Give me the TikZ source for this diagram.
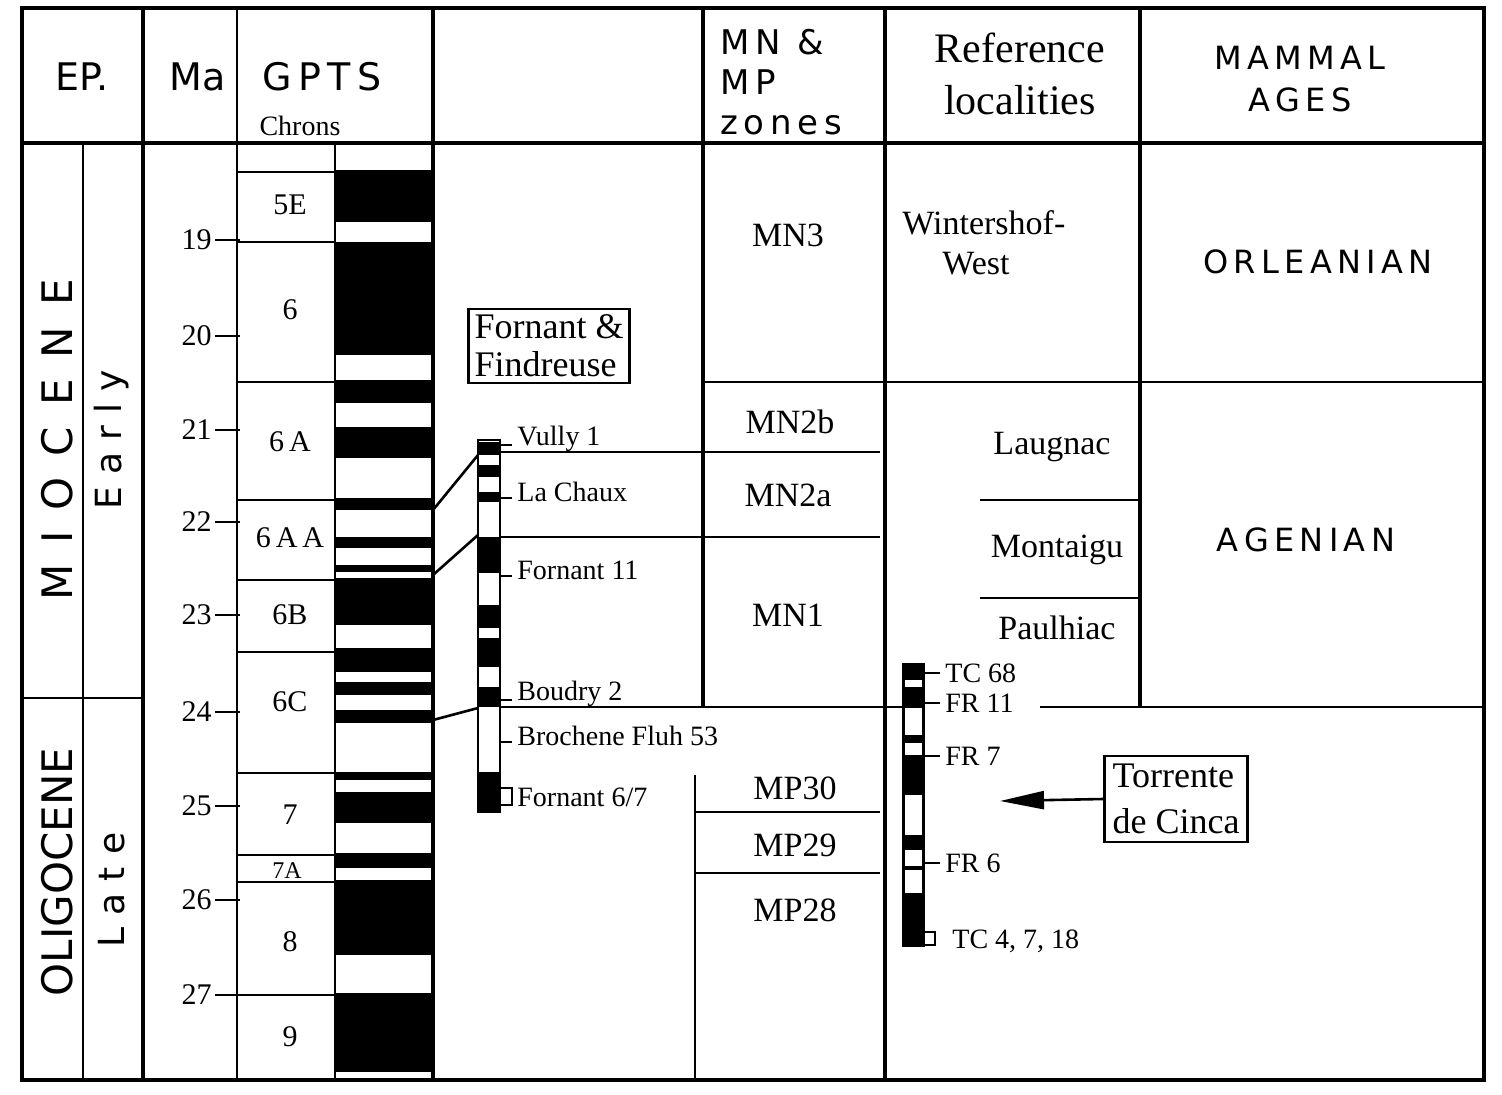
\documentclass[tikz,border=0pt]{standalone}
\usepackage{fontspec}
\setmainfont{Liberation Serif}
\newfontfamily\hsans{DejaVu Sans}
\usetikzlibrary{arrows.meta}
\begin{document}
\begin{tikzpicture}[x=0.5pt,y=-0.5pt,
 thick line/.style={line width=2pt},
 med/.style={line width=1.3pt},
 lab/.style={font=\fontsize{14}{14}\selectfont,anchor=west,inner sep=1pt},
 big/.style={font=\fontsize{17}{17}\selectfont,inner sep=0pt},
 chron/.style={font=\fontsize{15}{15}\selectfont,inner sep=0pt},
 hdr/.style={font=\hsans\fontsize{19}{19}\selectfont,inner sep=0pt}]
\useasboundingbox (0,0) rectangle (1502,1095);
% polarity column
\foreach \a/\b in {170/222,242/355,380/403,427/458,498/510,537/548,565/572,578/625,648/672,682/695,710/723,772/780,792/823,853/868,880/955,993/1072}
  \fill (335,\a) rectangle (433,\b);
% frame
\draw[thick line] (22,8) rectangle (1484,1080);
\draw[thick line] (22,143) -- (1484,143);
\draw[thick line] (143,8) -- (143,1080);
\draw[thick line] (433,8) -- (433,1080);
\draw[med] (83,143) -- (83,1080);
\draw[med] (237,8) -- (237,1080);
\draw[med] (335,143) -- (335,1080);
\draw[thick line] (703,8) -- (703,707);
\draw[med] (695,775) -- (695,1080);
\draw[thick line] (885,8) -- (885,1080);
\draw[thick line] (1140,8) -- (1140,707);
\draw[med] (22,698) -- (143,698);
% chrons
\foreach \y in {172,242,382,500,580,652,773,855,882,995} \draw[med] (237,\y) -- (335,\y);
\foreach \t/\y [count=\i] in {5E/205,6/310,6\,A/442,6\,A\,A/538,6B/615,6C/702,7/815,8/942,9/1037}
  \node[chron] (c\i) at (290,\y) {\t};
\node[chron,font=\fontsize{12}{12}\selectfont] (c7a) at (287,871) {7A};
% Ma
\foreach \m/\y in {19/240,20/336,21/430,22/522,23/615,24/712,25/806,26/900,27/995}{
  \draw[med] (215,\y) -- (240,\y);
  \node[chron,anchor=east] (ma\m) at (212,\y) {\m};}
% header
\node[hdr] (h1) at (82,77) {EP.};
\node[hdr] (h2) at (198,77) {Ma};
\node[hdr] (h3) at (322,77) {G\,P\,T\,S};
\node[font=\fontsize{14}{14}\selectfont,inner sep=0pt] (h4) at (300,126) {Chrons};
\node[hdr,anchor=west,align=left,font=\hsans\fontsize{17}{20}\selectfont] (h5) at (720,82) {M\,N \,\&\\M\,P\\z\,o\,n\,e\,s};
\node[big,align=center,font=\fontsize{21}{26}\selectfont] (h6) at (1020,74) {Reference\\localities};
\node[hdr,align=center,font=\hsans\fontsize{16}{21}\selectfont] (h7) at (1300,79) {M\,A\,M\,M\,A\,L\\A\,G\,E\,S};
% epochs
\node[hdr,rotate=90,font=\hsans\fontsize{21}{21}\selectfont] (e1) at (57,440) {M\,\,\,I\,\,\,O\,\,\,C\,\,\,E\,\,\,N\,\,\,E};
\node[hdr,rotate=90,font=\hsans\fontsize{18}{18}\selectfont] (e2) at (112,440) {E\,\,a\,\,r\,\,l\,\,y};
\node[hdr,rotate=90,font=\hsans\fontsize{21}{21}\selectfont] (e3) at (57,872) {OLIGOCENE};
\node[hdr,rotate=90,font=\hsans\fontsize{18}{18}\selectfont] (e4) at (112,890) {L\,\,a\,\,t\,\,e};
% Fornant column
\fill[white] (478,440) rectangle (500,812);
\foreach \a/\b in {442/455,465/477,492/502,537/573,605/628,638/667,687/707,772/813}
  \fill (478,\a) rectangle (500,\b);
\draw[med] (478,440) rectangle (500,812);
\coordinate (p1) at (433,510); \coordinate (q1) at (478,455);
\coordinate (p2) at (433,575); \coordinate (q2) at (478,535);
\coordinate (p3) at (433,720); \coordinate (q3) at (478,708);
\draw[med] (p1) -- (q1); \draw[med] (p2) -- (q2); \draw[med] (p3) -- (q3);
\node[draw,med,big,align=left,inner sep=3pt,font=\fontsize{18}{19}\selectfont] (ff) at (549,346) {Fornant \&\\Findreuse};
\foreach \y/\t/\n in {445/Vully 1/v,498/La Chaux/lc,576/Fornant 11/f11,700/Boudry 2/b2,742/Brochene Fluh 53/bf}{
  \draw[med] (500,\y) -- (512,\y);
  \node[lab] (\n) at (515,\y-6) {\t};}
\draw[med] (500,788) -- (512,788) -- (512,805) -- (500,805);
\node[lab] (f67) at (515,797) {Fornant 6/7};
% MN zones
\draw[med] (703,382) -- (1484,382);
\draw[med] (500,452) -- (880,452);
\draw[med] (500,537) -- (880,537);
\draw[med] (500,707) -- (903,707);
\draw[med] (1040,707) -- (1484,707);
\draw[med] (695,812) -- (880,812);
\draw[med] (695,873) -- (880,873);
\foreach \t/\x/\y [count=\i] in {MN3/788/235,MN2b/790/422,MN2a/788/495,MN1/788/615,MP30/795/788,MP29/795/845,MP28/795/910}
  \node[big] (z\i) at (\x,\y) {\t};
% ref localities
\node[big,align=left,anchor=north west,font=\fontsize{17}{20}\selectfont] (r1) at (902,210) {Wintershof-\\\hspace*{20pt}West};
\draw[med] (980,500) -- (1140,500);
\draw[med] (980,598) -- (1140,598);
\node[big] (r2) at (1052,447) {Laugnac};
\node[big] (r3) at (1057,550) {Montaigu};
\node[big] (r4) at (1057,628) {Paulhiac};
\node[hdr,font=\hsans\fontsize{16}{16}\selectfont] (m1) at (1318,262) {O\,R\,L\,E\,A\,N\,I\,A\,N};
\node[hdr,font=\hsans\fontsize{16}{16}\selectfont] (m2) at (1306,540) {A\,G\,E\,N\,I\,A\,N};
% Torrente column
\fill (902,663) rectangle (925,947);
\foreach \a/\b in {680/687,708/735,743/755,795/835,850/866,870/893}
  \fill[white] (905,\a) rectangle (922,\b);
\foreach \y/\t/\n in {673/TC 68/t1,703/FR 11/t2,756/FR 7/t3,863/FR 6/t4}{
  \draw[med] (925,\y) -- (940,\y);
  \node[lab] (\n) at (943,\y) {\t};}
\draw[med] (925,932) -- (935,932) -- (935,945) -- (925,945);
\node[lab] (t5) at (950,941) {TC 4, 7, 18};
\node[draw,med,big,align=left,inner sep=4pt,font=\fontsize{18}{23}\selectfont] (tc) at (1176,799) {Torrente\\de Cinca};
\coordinate (ar) at (1000,801);
\draw[med,-{Triangle[length=22pt,width=9pt]}] (tc.west) -- (ar);
\end{tikzpicture}
\end{document}
